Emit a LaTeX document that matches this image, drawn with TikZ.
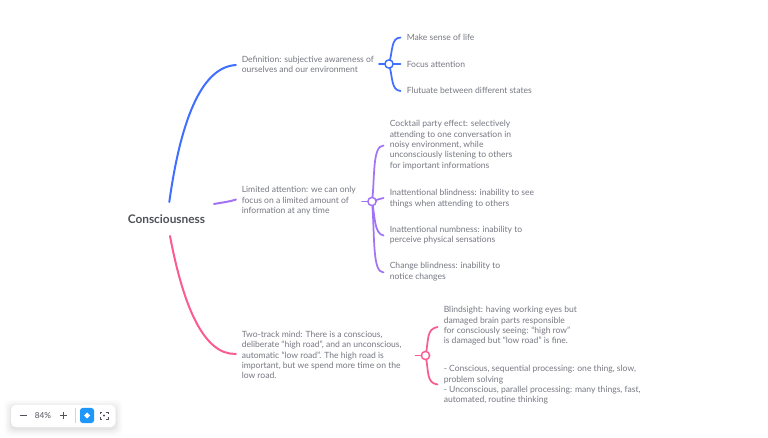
\documentclass[tikz,border=0pt]{standalone}
\usepackage{fontspec}
\setmainfont{Lato}
\definecolor{txt}{HTML}{777982}
\definecolor{ttl}{HTML}{4F525A}
\definecolor{bl}{HTML}{3F6FFF}
\definecolor{pu}{HTML}{A274F5}
\definecolor{pk}{HTML}{FA5C8F}
\definecolor{btn}{HTML}{1E96FA}
\tikzset{
  leaf/.style={anchor=west,inner sep=0pt,align=left,text=txt,font=\fontsize{6.42pt}{7.75pt}\selectfont},
  title/.style={anchor=west,inner sep=0pt,text=ttl,font=\fontsize{8.9pt}{11pt}\selectfont\bfseries},
  main/.style={line width=1.5pt,line cap=round},
  twig/.style={line width=1.3pt,line cap=round},
  hub/.style={circle,draw,fill=white,line width=1.1pt,minimum size=6.2pt,inner sep=0pt},
  tool/.style={inner sep=0pt,text=ttl,font=\fontsize{6.2pt}{7pt}\selectfont},
  toolicon/.style={line width=0.7pt,draw=ttl}
}
\begin{document}
\begin{tikzpicture}[x=0.75pt,y=-0.75pt]
\useasboundingbox (0,0) rectangle (768,438);
\fill[white] (0,0) rectangle (768,438);
% titles and texts
\node[title] (root) at (127.5,219) {Consciousness};
\node[leaf] (def) at (241.5,64.5) {Definition: subjective awareness of\\ourselves and our environment};
\node[leaf] (sense) at (406.5,37) {Make sense of life};
\node[leaf] (focus) at (406.5,64) {Focus attention};
\node[leaf] (flut) at (406.5,90.5) {Flutuate between different states};
\node[leaf] (lim) at (241.5,200.8) {Limited attention: we can only\\focus on a limited amount of\\information at any time};
\node[leaf] (cock) at (389.5,145) {Cocktail party effect: selectively\\attending to one conversation in\\noisy environment, while\\unconsciously listening to others\\for important informations};
\node[leaf] (inb) at (389.5,198.5) {Inattentional blindness: inability to see\\things when attending to others};
\node[leaf] (inn) at (389.5,235) {Inattentional numbness: inability to\\perceive physical sensations};
\node[leaf] (chg) at (389.5,271.5) {Change blindness: inability to\\notice changes};
\node[leaf] (two) at (241.5,355) {Two-track mind: There is a conscious,\\deliberate “high road”, and an unconscious,\\automatic “low road”. The high road is\\important, but we spend more time on the\\low road.};
\node[leaf] (bs) at (443.5,326) {Blindsight: having working eyes but\\damaged brain parts responsible\\for consciously seeing: “high row”\\is damaged but “low road” is fine.};
\node[leaf] (proc) at (443.5,385) {- Conscious, sequential processing: one thing, slow,\\problem solving\\- Unconscious, parallel processing: many things, fast,\\automated, routine thinking};
% anchors of connectors
\coordinate (rb) at (169.3,202);
\coordinate (rp) at (214,204);
\coordinate (rk) at (170,236);
\coordinate (de) at ([xshift=-4.2pt,yshift=-0.4pt]def.west);
\coordinate (le) at ([xshift=-4.2pt,yshift=0.9pt]lim.west);
\coordinate (te) at ([xshift=-4.2pt,yshift=0.8pt]two.west);
% main branches
\draw[main,bl] (rb) .. controls (180,125) and (200,67) .. (de);
\draw[main,pu] (rp) .. controls (222,202.5) and (228,202) .. (le);
\draw[main,pk] (rk) .. controls (184,310) and (205,355) .. (te);
% blue fork
\coordinate (bh) at (389,64);
\coordinate (bt) at (379,64);
\coordinate (b1) at (400.5,37.5);
\coordinate (b2) at (400.5,64);
\coordinate (b3) at (400.5,91);
\draw[twig,bl] (bt) -- (b2);
\draw[twig,bl] (bh) .. controls (393,50) and (391,38) .. (b1);
\draw[twig,bl] (bh) .. controls (393,78) and (391,90) .. (b3);
\node[hub,draw=bl] (bhub) at (bh) {};
% purple fork
\coordinate (ph) at (372,201.5);
\coordinate (pt) at (362,201.5);
\coordinate (p1) at (383.5,145.5);
\coordinate (p2) at (383.5,198);
\coordinate (p3) at (383.5,235.5);
\coordinate (p4) at (383.5,272.5);
\draw[twig,pu] (pt) -- (ph);
\draw[twig,pu] (ph) .. controls (377,200) and (380,198.5) .. (p2);
\draw[twig,pu] (ph) .. controls (375,180) and (372,145.5) .. (p1);
\draw[twig,pu] (ph) .. controls (375,215) and (374,234) .. (p3);
\draw[twig,pu] (ph) .. controls (375,235) and (372,272.5) .. (p4);
\node[hub,draw=pu] (phub) at (ph) {};
% pink fork
\coordinate (kh) at (425.5,355.5);
\coordinate (kt) at (415.5,355.5);
\coordinate (k1) at (437.5,327);
\coordinate (k2) at (437.5,384.5);
\draw[twig,pk] (kt) -- (kh);
\draw[twig,pk] (kh) .. controls (429,340) and (426,329) .. (k1);
\draw[twig,pk] (kh) .. controls (429,371) and (426,383) .. (k2);
\node[hub,draw=pk] (khub) at (kh) {};
% toolbar
\foreach \d/\o in {7/0.012,5.5/0.015,4/0.02,2.5/0.025,1/0.03}{
  \fill[black,opacity=\o,rounded corners=4pt] (11-\d,405-\d+2) rectangle (115.5+\d,427+\d+2);
}
\fill[white,rounded corners=3.5pt] (11,405) rectangle (115.5,427);
\draw[toolicon] (19.5,415.5) -- (26.5,415.5);
\node[tool] (pct) at (43,415.5) {84\%};
\draw[toolicon] (60,415.5) -- (67,415.5);
\draw[toolicon] (63.5,412) -- (63.5,419);
\draw[draw=ttl!25,line width=0.4pt] (75,408) -- (75,423);
\fill[btn,rounded corners=2pt] (80,408) rectangle (94,423);
\fill[white] (87,412.5) -- (90,415.5) -- (87,418.5) -- (84,415.5) -- cycle;
\draw[toolicon] (100,414) -- (100,412) -- (102,412);
\draw[toolicon] (106,412) -- (108,412) -- (108,414);
\draw[toolicon] (108,417) -- (108,419) -- (106,419);
\draw[toolicon] (102,419) -- (100,419) -- (100,417);
\fill[ttl] (104,415.5) circle (0.9pt);
\end{tikzpicture}
\end{document}
